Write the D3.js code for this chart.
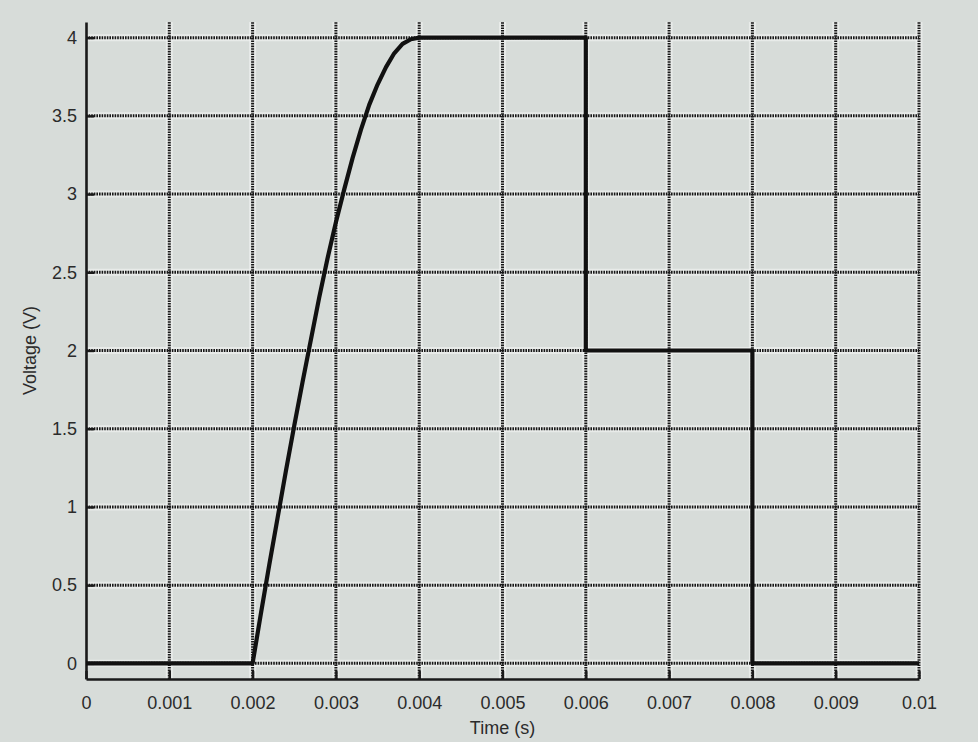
<!DOCTYPE html>
<html><head><meta charset="utf-8">
<script src="https://cdn.jsdelivr.net/npm/d3@7"></script>
<style>
body{margin:0;background:#d7dcd9;}
svg{display:block;}
text{font-family:"Liberation Sans",Arial,sans-serif;fill:#2b2b2b;}
</style>
</head><body><svg id="c" width="978" height="742"></svg>
<script>
const timeS = [0, 0.002, 0.0021, 0.0022, 0.0023, 0.0024, 0.0025, 0.0026, 0.0027, 0.0028, 0.0029, 0.003, 0.0031, 0.0032, 0.0033, 0.0034, 0.0035, 0.0036, 0.0037, 0.0038, 0.0039, 0.004, 0.006, 0.006, 0.008, 0.008, 0.01];
const voltageV = [0, 0, 0.32, 0.63, 0.93, 1.23, 1.52, 1.8, 2.07, 2.34, 2.59, 2.82, 3.03, 3.23, 3.41, 3.57, 3.7, 3.81, 3.9, 3.96, 3.99, 4, 4, 2, 2, 0, 0];
const xTicks = [0, 0.001, 0.002, 0.003, 0.004, 0.005, 0.006, 0.007, 0.008, 0.009, 0.01];
const xTickLabels = ["0", "0.001", "0.002", "0.003", "0.004", "0.005", "0.006", "0.007", "0.008", "0.009", "0.01"];
const yTicks = [0, 0.5, 1, 1.5, 2, 2.5, 3, 3.5, 4];
const yTickLabels = ["0", "0.5", "1", "1.5", "2", "2.5", "3", "3.5", "4"];
const xTitle = "Time (s)";
const yTitle = "Voltage (V)";

const svg = d3.select("#c");
const W = 978, H = 742;
const m = {left: 86, right: 59, top: 22, bottom: 63};
const x = d3.scaleLinear().domain([0, 0.01]).range([m.left, W - m.right]);
const y = d3.scaleLinear().domain([-0.1, 4.1]).range([H - m.bottom, m.top]);

svg.append("rect").attr("width", W).attr("height", H).attr("fill", "#d7dcd9");

const grid = svg.append("g");
const drawGrid = (stroke, width, dash, op) => {
  grid.selectAll(null).data(xTicks.slice(1)).join("line")
    .attr("x1", d => x(d)).attr("x2", d => x(d))
    .attr("y1", y(-0.1)).attr("y2", y(4.1))
    .attr("stroke", stroke).attr("stroke-width", width)
    .attr("stroke-dasharray", dash).attr("opacity", op);
  grid.selectAll(null).data(yTicks).join("line")
    .attr("x1", x(0)).attr("x2", x(0.01))
    .attr("y1", d => y(d)).attr("y2", d => y(d))
    .attr("stroke", stroke).attr("stroke-width", width)
    .attr("stroke-dasharray", dash).attr("opacity", op);
};
drawGrid("#f4f6f5", 7, null, 0.6);
drawGrid("#161616", 3, "1.6,1", 1);

const xAxis = d3.axisBottom(x).tickValues(xTicks)
  .tickFormat((d, i) => xTickLabels[i]).tickSizeInner(-8).tickSizeOuter(0).tickPadding(17);
const yAxis = d3.axisLeft(y).tickValues(yTicks)
  .tickFormat((d, i) => yTickLabels[i]).tickSizeInner(-8).tickSizeOuter(0).tickPadding(9);

const gx = svg.append("g").attr("transform", `translate(0,${y(-0.1)})`).call(xAxis);
const gy = svg.append("g").attr("transform", `translate(${x(0)},0)`).call(yAxis);
[gx, gy].forEach(g => {
  g.select(".domain").attr("stroke", "#1a1a1a").attr("stroke-width", 2.6);
  g.selectAll(".tick line").attr("stroke", "#1a1a1a").attr("stroke-width", 2.4);
  g.selectAll(".tick text").attr("font-size", 18).attr("fill", "#2b2b2b")
    .attr("font-family", "'Liberation Sans', Arial, sans-serif");
});

const line = d3.line().x((d, i) => x(timeS[i])).y((d, i) => y(voltageV[i]));
svg.append("path").datum(voltageV).attr("d", line)
  .attr("fill", "none").attr("stroke", "#111").attr("stroke-width", 4.2)
  .attr("stroke-linejoin", "round").attr("stroke-linecap", "butt");

svg.append("text").attr("x", x(0.005)).attr("y", 734)
  .attr("text-anchor", "middle").attr("font-size", 18).text(xTitle);
svg.append("text").attr("transform", `translate(36,${y(2)}) rotate(-90)`)
  .attr("text-anchor", "middle").attr("font-size", 18).text(yTitle);
</script>
</body></html>
